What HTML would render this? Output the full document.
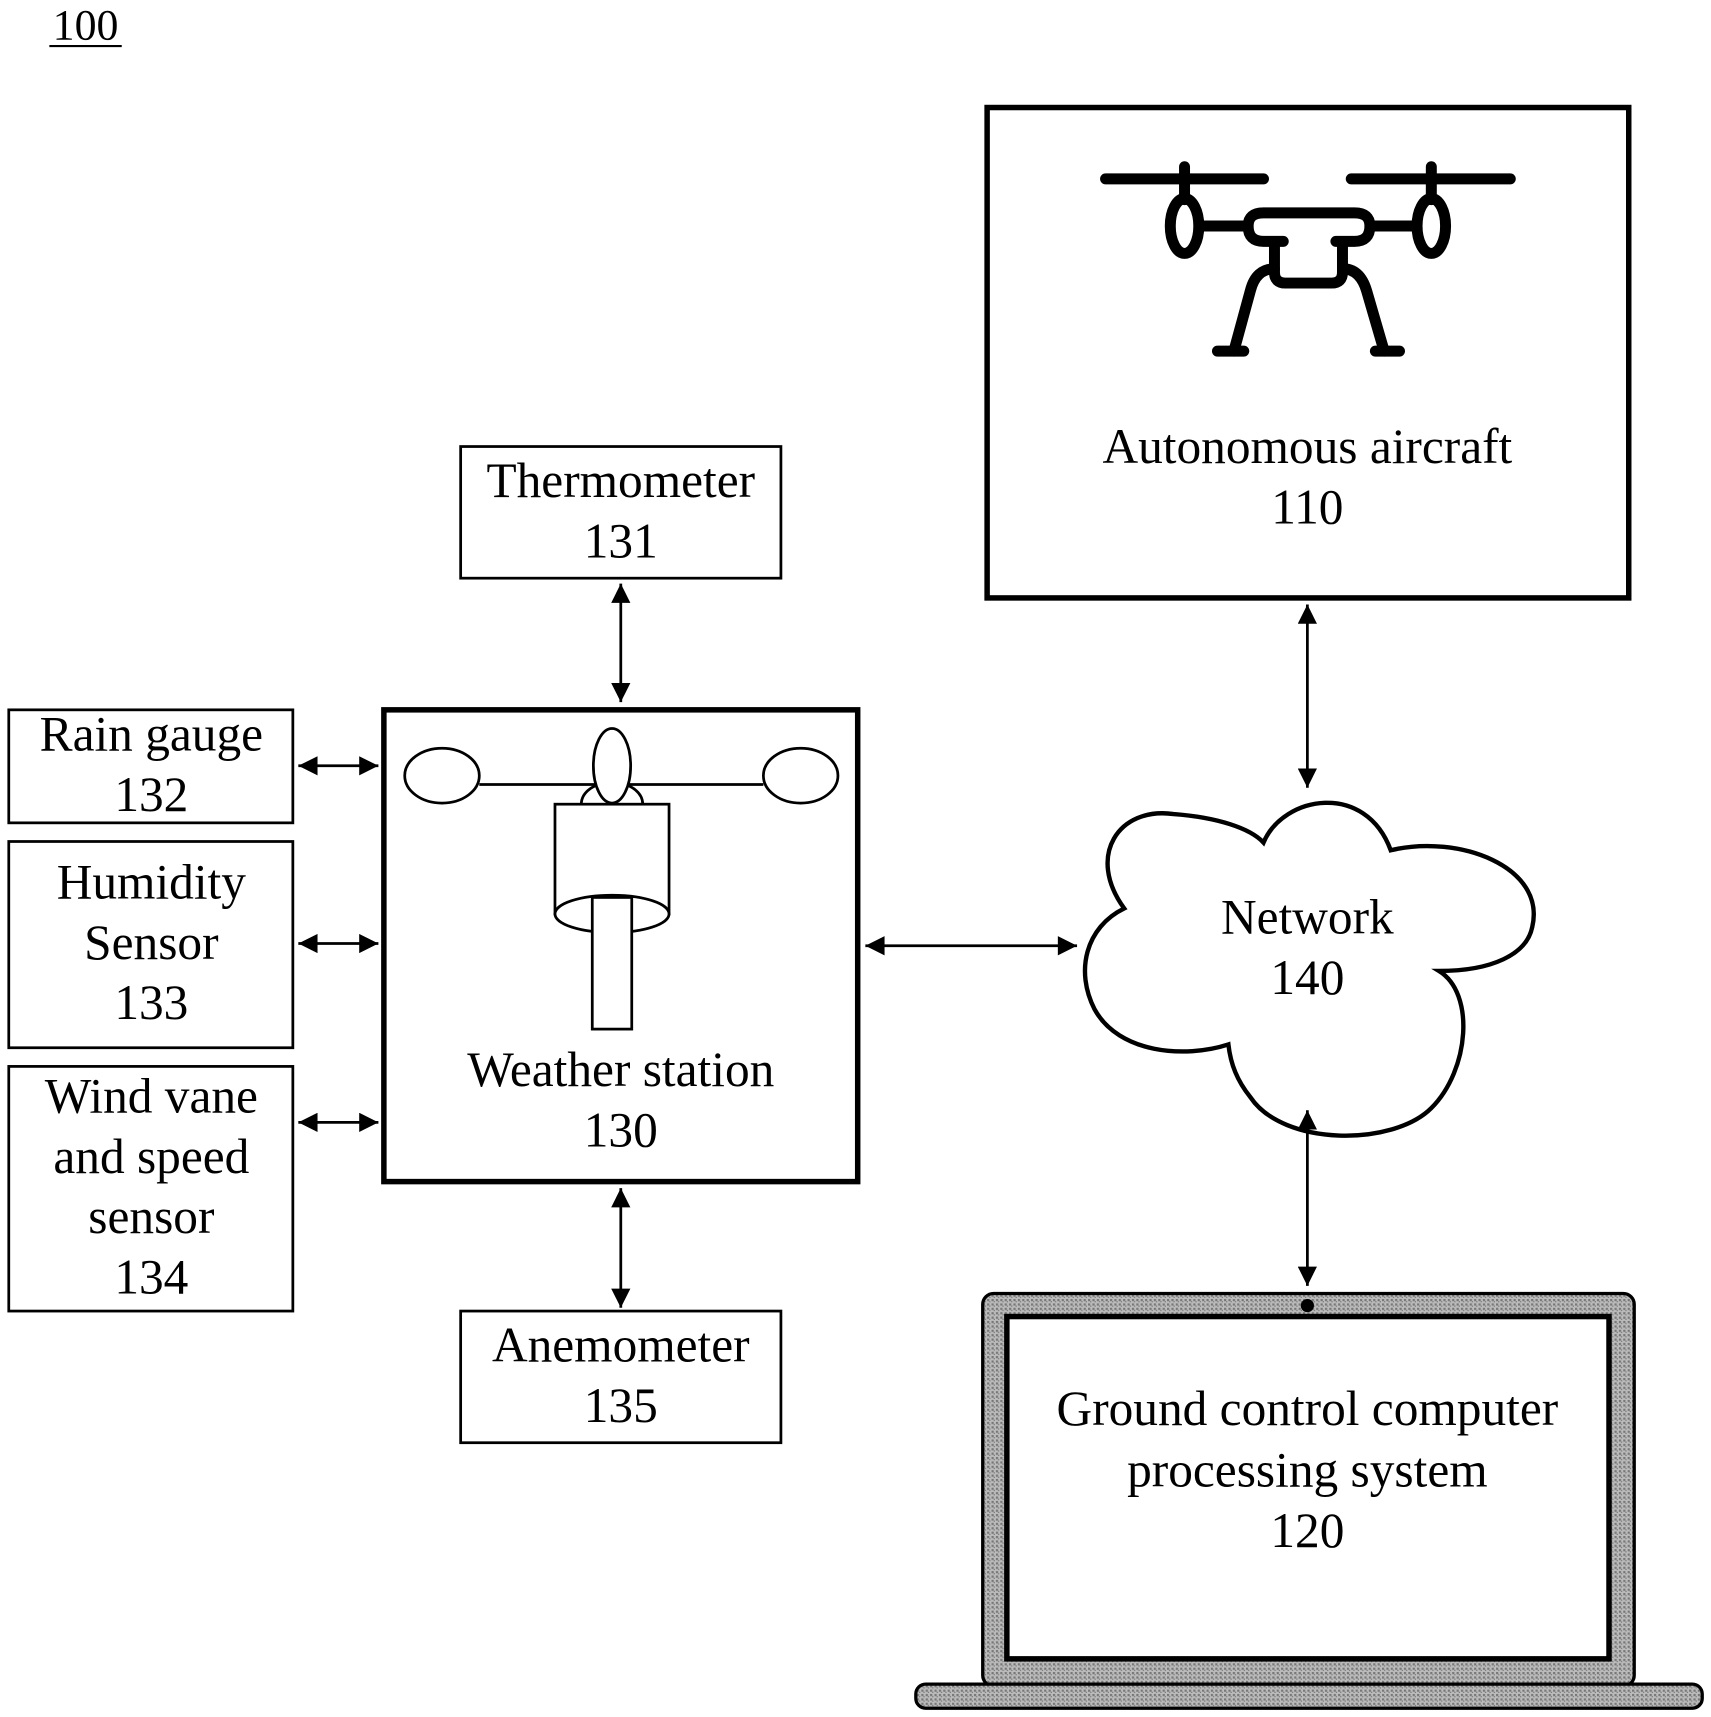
<!DOCTYPE html>
<html><head><style>html,body{margin:0;padding:0;background:#fff}svg{display:block}</style></head>
<body>
<svg width="1711" height="1717" viewBox="0 0 1560 1565" preserveAspectRatio="none" xmlns="http://www.w3.org/2000/svg" font-family="Liberation Serif, serif" font-size="45" text-anchor="middle">
<defs>
<marker id="a" viewBox="0 0 10 10" refX="10" refY="5" markerWidth="8.5" markerHeight="7" orient="auto-start-reverse" markerUnits="strokeWidth"><path d="M0,0 L10,5 L0,10 z" fill="#000"/></marker>
<pattern id="g" width="4" height="4" patternUnits="userSpaceOnUse"><rect width="4" height="4" fill="#bbb"/><rect width="2" height="2" fill="#777"/><rect x="2" y="2" width="1" height="1" fill="#666"/></pattern>
</defs>
<text x="78" y="36" font-size="40" text-anchor="middle">100</text>
<line x1="45" y1="42" x2="111" y2="42" stroke="#000" stroke-width="2"/>

<!-- aircraft -->
<rect x="900" y="98" width="585" height="447" fill="none" stroke="#000" stroke-width="5"/>
<g stroke="#000" stroke-width="10" fill="none" stroke-linecap="round" stroke-linejoin="round">
<line x1="1008" y1="163" x2="1152" y2="163"/><line x1="1232" y1="163" x2="1377" y2="163"/>
<line x1="1080" y1="152" x2="1080" y2="182"/><line x1="1305" y1="152" x2="1305" y2="182"/>
<ellipse cx="1080" cy="206" rx="13" ry="25"/><ellipse cx="1305" cy="206" rx="13" ry="25"/>
<line x1="1094" y1="206" x2="1136" y2="206"/><line x1="1250" y1="206" x2="1291" y2="206"/>
<path d="M1170,220 H1152 Q1138,220 1138,206 Q1138,194 1152,194 H1235 Q1249,194 1249,206 Q1249,220 1235,220 H1218"/>
<path d="M1162,222 V248 Q1162,258 1172,258 H1214 Q1224,258 1224,248 V222"/>
<path d="M1162,245 Q1145,245 1140,265 L1125,320"/><path d="M1224,245 Q1240,245 1246,265 L1262,320"/>
<line x1="1110" y1="320" x2="1134" y2="320"/><line x1="1254" y1="320" x2="1276" y2="320"/>
</g>
<text x="1192" y="422">Autonomous aircraft</text>
<text x="1192" y="477">110</text>

<!-- thermometer -->
<rect x="420" y="407" width="292" height="120" fill="none" stroke="#000" stroke-width="2.5"/>
<text x="566" y="453">Thermometer</text><text x="566" y="508">131</text>

<!-- left boxes -->
<rect x="8" y="647" width="259" height="103" fill="none" stroke="#000" stroke-width="2.5"/>
<text x="138" y="684">Rain gauge</text><text x="138" y="739">132</text>
<rect x="8" y="767" width="259" height="188" fill="none" stroke="#000" stroke-width="2.5"/>
<text x="138" y="819">Humidity</text><text x="138" y="874">Sensor</text><text x="138" y="929">133</text>
<rect x="8" y="972" width="259" height="223" fill="none" stroke="#000" stroke-width="2.5"/>
<text x="138" y="1014">Wind vane</text><text x="138" y="1069">and speed</text><text x="138" y="1124">sensor</text><text x="138" y="1179">134</text>

<!-- weather station -->
<rect x="350" y="647" width="432" height="430" fill="none" stroke="#000" stroke-width="5"/>
<g stroke="#000" stroke-width="2.5" fill="#fff">
<line x1="437" y1="715" x2="696" y2="715"/>
<ellipse cx="403" cy="707" rx="34" ry="25"/><ellipse cx="730" cy="707" rx="34" ry="25"/>
<path d="M530,733 A28,20 0 0 1 586,733" fill="none"/>
<rect x="506" y="733" width="104" height="100"/>
<ellipse cx="558" cy="833" rx="52" ry="17"/>
<rect x="540" y="818" width="36" height="120"/>
<ellipse cx="558" cy="698" rx="17" ry="34"/>
</g>
<text x="566" y="990">Weather station</text><text x="566" y="1045">130</text>

<!-- cloud -->
<path d="M1025,828 C990,780 1020,735 1070,742 C1110,745 1140,755 1152,768 C1170,725 1245,712 1268,775 C1330,760 1410,790 1397,845 C1392,870 1360,885 1312,885 C1345,905 1340,975 1305,1010 C1270,1045 1170,1045 1140,1000 C1128,985 1122,970 1120,952 C1080,965 1020,960 998,920 C980,885 990,845 1025,828 Z" fill="#fff" stroke="#000" stroke-width="4"/>
<text x="1192" y="851">Network</text><text x="1192" y="906">140</text>

<!-- laptop -->
<rect x="896" y="1179" width="594" height="358" rx="10" fill="url(#g)" stroke="#000" stroke-width="3"/>
<rect x="918" y="1200" width="549" height="312" fill="#fff" stroke="#000" stroke-width="5"/>
<circle cx="1192" cy="1190" r="6" fill="#000"/>
<rect x="835" y="1535" width="717" height="22" rx="9" fill="url(#g)" stroke="#000" stroke-width="3"/>
<text x="1192" y="1299">Ground control computer</text><text x="1192" y="1355">processing system</text><text x="1192" y="1410">120</text>

<!-- arrows -->
<g stroke="#000" stroke-width="2.5" marker-start="url(#a)" marker-end="url(#a)">
<line x1="566" y1="532" x2="566" y2="640"/>
<line x1="1192" y1="551" x2="1192" y2="718"/>
<line x1="789" y1="862" x2="982" y2="862"/>
<line x1="1192" y1="1012" x2="1192" y2="1172"/>
<line x1="566" y1="1083" x2="566" y2="1192"/>
<line x1="272" y1="698" x2="345" y2="698"/>
<line x1="272" y1="860" x2="345" y2="860"/>
<line x1="272" y1="1023" x2="345" y2="1023"/>
</g>

<!-- anemometer -->
<rect x="420" y="1195" width="292" height="120" fill="none" stroke="#000" stroke-width="2.5"/>
<text x="566" y="1241">Anemometer</text>
<text x="566" y="1296">135</text>
</svg>
</body></html>
